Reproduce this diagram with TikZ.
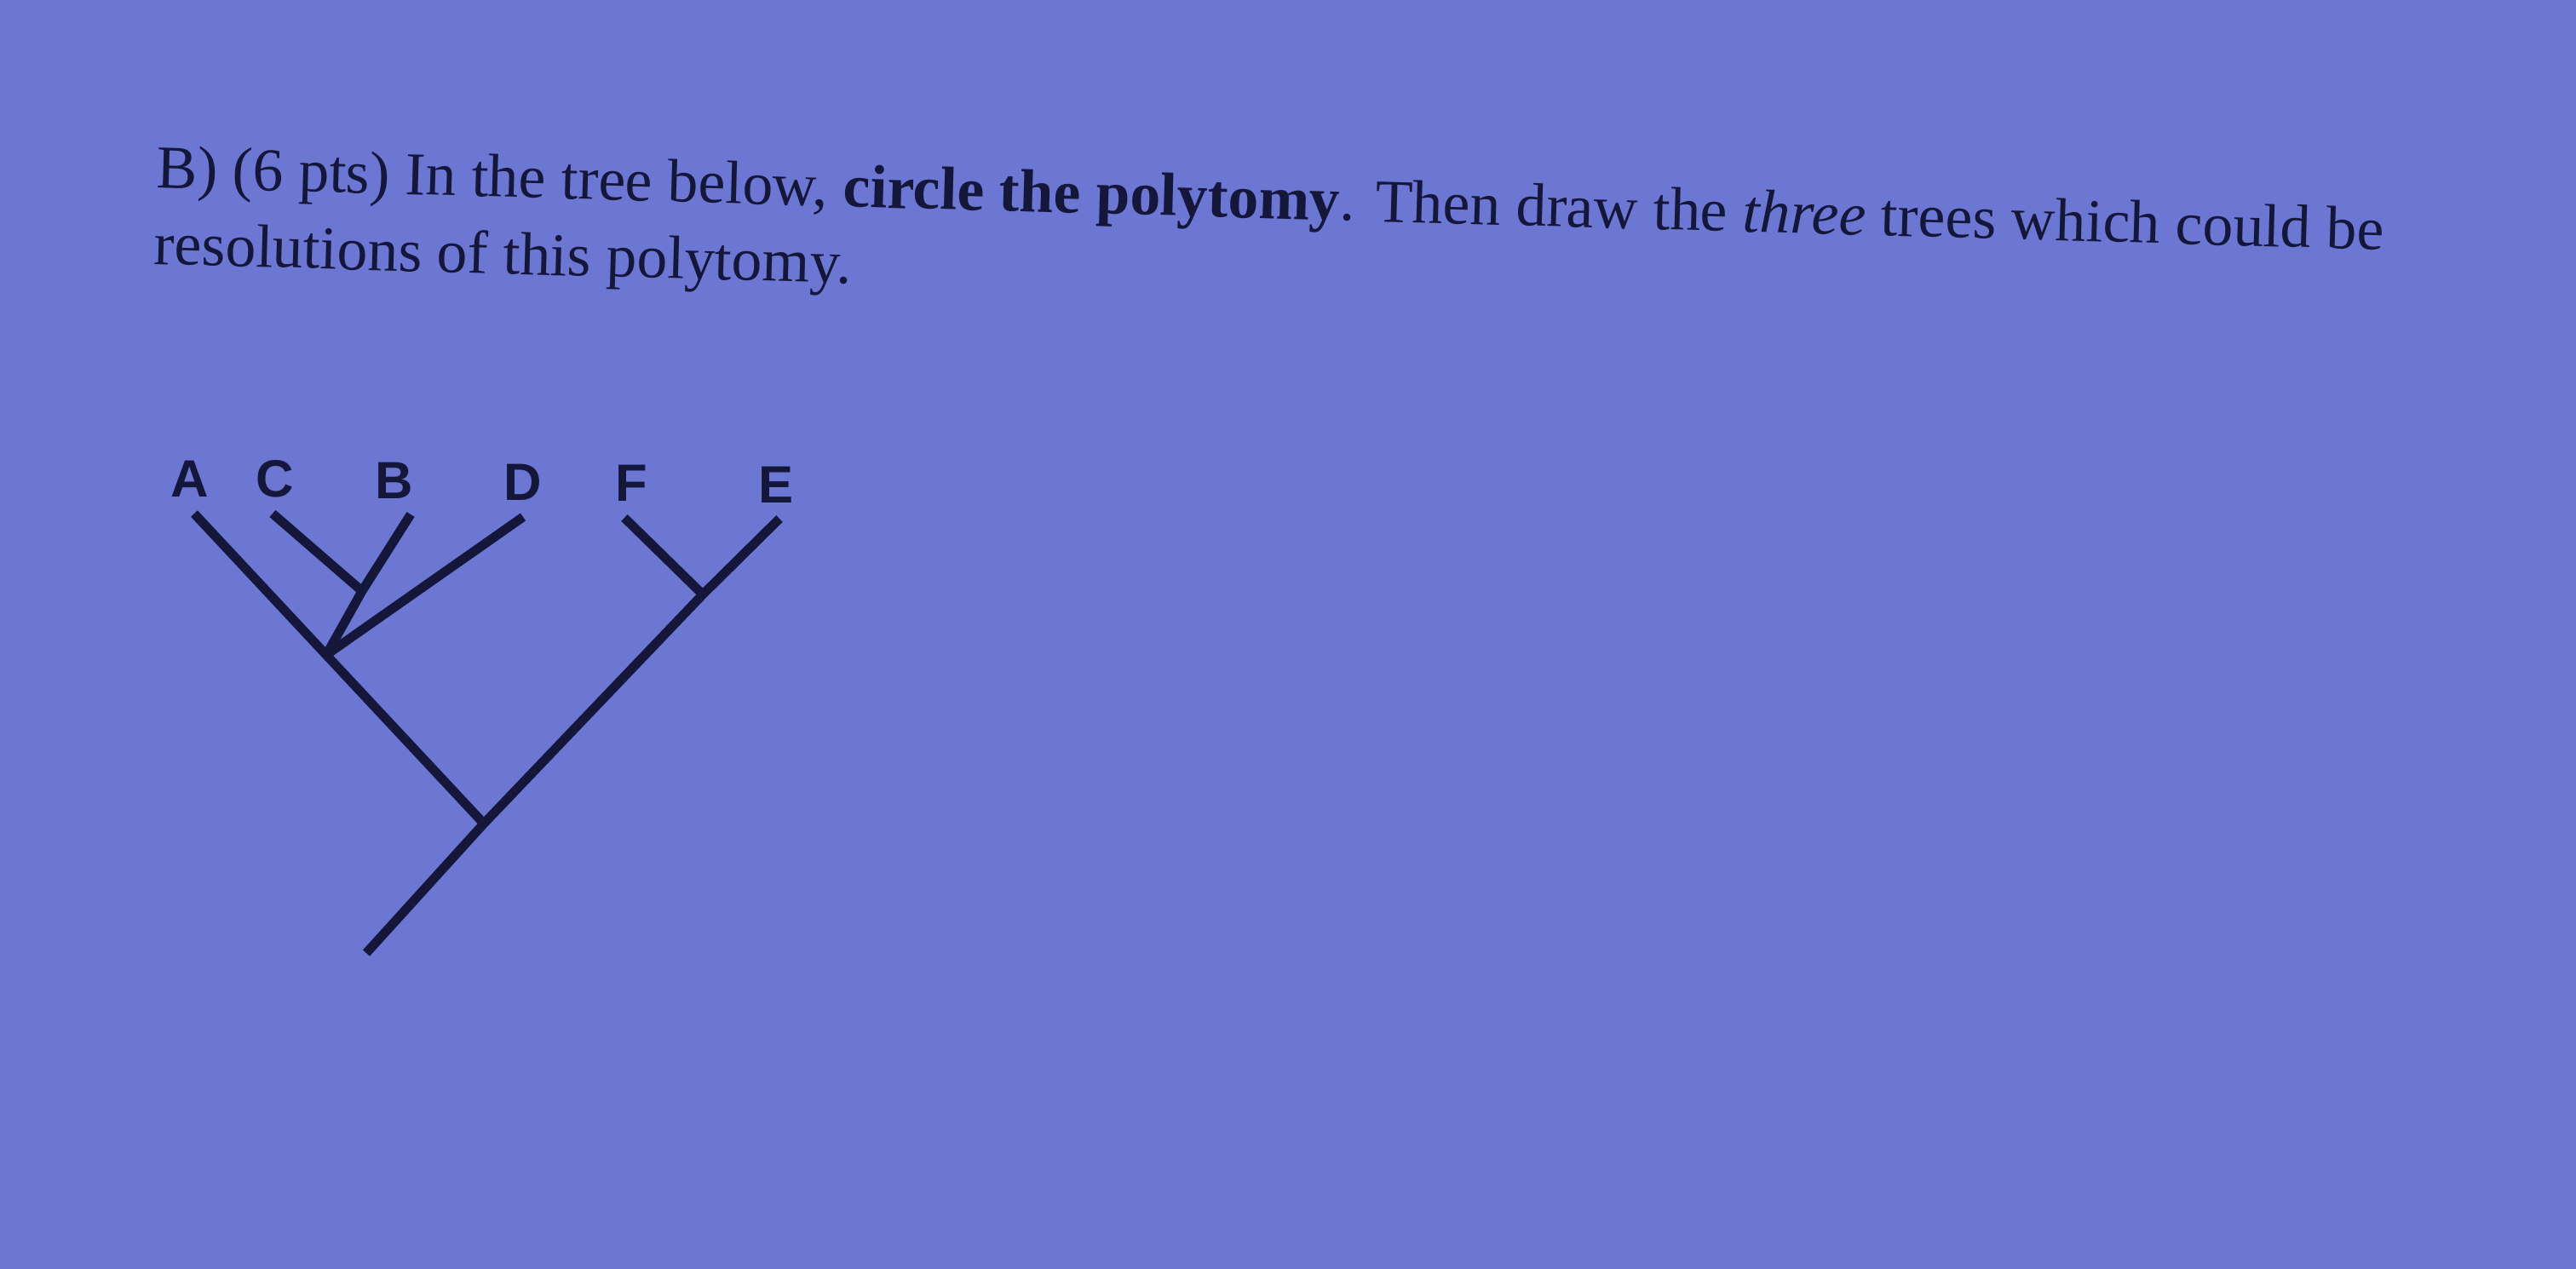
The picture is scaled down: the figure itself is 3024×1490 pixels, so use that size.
\documentclass[tikz,border=0pt]{standalone}
\usepackage{fontspec}
\setmainfont{Liberation Serif}
\newfontfamily\labelfont{Liberation Sans}
\definecolor{paper}{HTML}{6B77D3}
\definecolor{ink}{HTML}{15173A}
\begin{document}
\begin{tikzpicture}[x=0.25pt,y=-0.25pt,
  branch/.style={draw=ink,line width=2.7pt,line cap=butt,line join=miter},
  taxon/.style={font=\labelfont\bfseries\fontsize{15.4}{18}\selectfont,text=ink,anchor=base,inner sep=0pt},
  question/.style={font=\fontsize{17.9}{22.5}\selectfont,text=ink,anchor=base west,inner sep=0pt,align=left,rotate=-1.6}]
\fill[paper] (0,0) rectangle (3024,1490);
\useasboundingbox (0,0) rectangle (3024,1490);
% question text (anchored at the baseline of its last line)
\node[question] (q) at (180,310) {B) (6 pts) In the tree below, \textbf{circle the polytomy}. Then draw the \textit{three} trees which could be\\resolutions of this polytomy.};
% taxon labels
\node[taxon] (lA) at (223,583) {A};
\node[taxon] (lC) at (323,583) {C};
\node[taxon] (lB) at (463,585) {B};
\node[taxon] (lD) at (614,587) {D};
\node[taxon] (lF) at (741,588) {F};
\node[taxon] (lE) at (911,590) {E};
% branch tips
\coordinate (tA) at (228,603);
\coordinate (tC) at (320,603);
\coordinate (tB) at (482,604);
\coordinate (tD) at (614,607);
\coordinate (tF) at (733,608);
\coordinate (tE) at (915,609);
% internal nodes
\coordinate (nCB) at (425,694);
\coordinate (nP) at (383,769);
\coordinate (nFE) at (825,698);
\coordinate (nR) at (568,967);
\coordinate (tR) at (430,1119);
% branches
\draw[branch] (tA) -- (nP) -- (nR);
\draw[branch] (tC) -- (nCB);
\draw[branch] (tB) -- (nCB) -- (nP);
\draw[branch] (tD) -- (nP);
\draw[branch] (tF) -- (nFE);
\draw[branch] (tE) -- (nFE) -- (nR) -- (tR);
\end{tikzpicture}
\end{document}
